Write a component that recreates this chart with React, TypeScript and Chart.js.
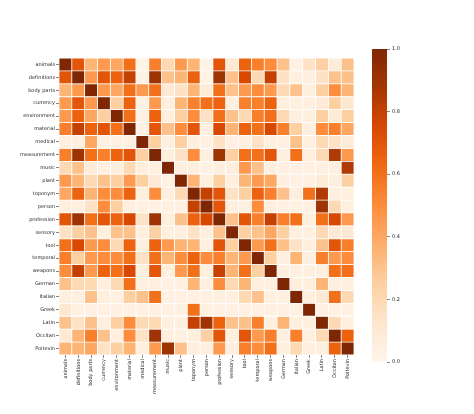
import React, { useEffect, useRef } from "react";
import { Chart, registerables } from "chart.js";
Chart.register(...registerables);

const categories = [
  "animals", "definitions", "body parts", "currency", "environment", "material",
  "medical", "measurement", "music", "plant", "toponym", "person", "profession",
  "sensory", "tool", "temporal", "weapons", "German", "Italian", "Greek", "Latin",
  "Occitan", "Poitevin",
];

const rowAnimals = [1.0, 0.7, 0.35, 0.45, 0.4, 0.6, 0.02, 0.55, 0.2, 0.45, 0.35, 0.02, 0.7, 0.1, 0.65, 0.55, 0.5, 0.3, 0.03, 0.15, 0.25, 0.08, 0.3];
const rowDefinitions = [0.7, 1.0, 0.45, 0.7, 0.65, 0.8, 0.03, 0.9, 0.3, 0.35, 0.65, 0.03, 0.9, 0.3, 0.75, 0.2, 0.8, 0.15, 0.05, 0.05, 0.15, 0.3, 0.3];
const rowBodyParts = [0.35, 0.45, 1.0, 0.45, 0.4, 0.6, 0.45, 0.6, 0.1, 0.15, 0.35, 0.08, 0.6, 0.3, 0.45, 0.5, 0.45, 0.2, 0.3, 0.05, 0.25, 0.5, 0.35];
const rowCurrency = [0.45, 0.7, 0.45, 1.0, 0.25, 0.65, 0.03, 0.45, 0.05, 0.35, 0.55, 0.6, 0.65, 0.05, 0.55, 0.55, 0.65, 0.05, 0.05, 0.05, 0.08, 0.25, 0.12];
const rowEnvironment = [0.45, 0.65, 0.4, 0.25, 1.0, 0.6, 0.03, 0.65, 0.05, 0.25, 0.5, 0.15, 0.6, 0.3, 0.2, 0.55, 0.6, 0.2, 0.05, 0.05, 0.25, 0.08, 0.25];
const rowMaterial = [0.55, 0.8, 0.65, 0.7, 0.6, 1.0, 0.03, 0.7, 0.3, 0.5, 0.7, 0.05, 0.75, 0.35, 0.65, 0.6, 0.75, 0.55, 0.25, 0.05, 0.5, 0.55, 0.4];
const rowMedical = [0.05, 0.05, 0.4, 0.04, 0.04, 0.04, 1.0, 0.25, 0.05, 0.25, 0.05, 0.04, 0.15, 0.04, 0.05, 0.15, 0.05, 0.04, 0.3, 0.04, 0.2, 0.15, 0.08];
const rowMeasurement = [0.55, 0.9, 0.6, 0.55, 0.65, 0.7, 0.25, 1.0, 0.05, 0.15, 0.5, 0.05, 0.9, 0.25, 0.6, 0.6, 0.7, 0.05, 0.6, 0.05, 0.2, 0.85, 0.45];
const rowMusic = [0.2, 0.3, 0.08, 0.05, 0.05, 0.2, 0.05, 0.05, 1.0, 0.05, 0.05, 0.03, 0.05, 0.05, 0.45, 0.3, 0.05, 0.04, 0.04, 0.04, 0.04, 0.05, 0.85];
const rowPlant = [0.45, 0.35, 0.2, 0.3, 0.25, 0.45, 0.25, 0.1, 0.03, 1.0, 0.35, 0.05, 0.25, 0.05, 0.35, 0.45, 0.4, 0.05, 0.04, 0.04, 0.08, 0.05, 0.25];
const rowToponym = [0.4, 0.65, 0.35, 0.5, 0.5, 0.65, 0.05, 0.5, 0.05, 0.2, 1.0, 0.8, 0.7, 0.15, 0.25, 0.65, 0.55, 0.3, 0.05, 0.6, 0.85, 0.05, 0.05];
const rowPerson = [0.05, 0.05, 0.15, 0.5, 0.25, 0.05, 0.04, 0.04, 0.04, 0.04, 0.8, 1.0, 0.7, 0.05, 0.05, 0.5, 0.05, 0.04, 0.04, 0.04, 0.9, 0.2, 0.05];
const rowProfession = [0.7, 0.9, 0.6, 0.7, 0.65, 0.75, 0.15, 0.9, 0.05, 0.3, 0.65, 0.75, 1.0, 0.3, 0.7, 0.55, 0.8, 0.55, 0.6, 0.05, 0.6, 0.75, 0.45];
const rowSensory = [0.15, 0.25, 0.3, 0.05, 0.3, 0.3, 0.05, 0.25, 0.05, 0.05, 0.15, 0.05, 0.3, 1.0, 0.25, 0.3, 0.4, 0.25, 0.05, 0.04, 0.2, 0.1, 0.1];
const rowTool = [0.6, 0.75, 0.45, 0.5, 0.2, 0.65, 0.05, 0.65, 0.45, 0.35, 0.35, 0.05, 0.7, 0.25, 1.0, 0.45, 0.6, 0.3, 0.15, 0.05, 0.3, 0.7, 0.55];
const rowTemporal = [0.55, 0.25, 0.45, 0.5, 0.5, 0.6, 0.15, 0.6, 0.35, 0.5, 0.65, 0.5, 0.55, 0.35, 0.45, 1.0, 0.25, 0.05, 0.35, 0.05, 0.55, 0.45, 0.5];
const rowWeapons = [0.5, 0.8, 0.45, 0.65, 0.6, 0.75, 0.05, 0.7, 0.05, 0.45, 0.6, 0.05, 0.8, 0.35, 0.6, 0.25, 1.0, 0.05, 0.05, 0.05, 0.05, 0.6, 0.6];
const rowGerman = [0.3, 0.2, 0.2, 0.05, 0.2, 0.6, 0.05, 0.05, 0.04, 0.04, 0.35, 0.04, 0.5, 0.2, 0.35, 0.05, 0.05, 1.0, 0.05, 0.05, 0.35, 0.05, 0.05];
const rowItalian = [0.05, 0.05, 0.3, 0.05, 0.04, 0.25, 0.3, 0.6, 0.04, 0.04, 0.04, 0.04, 0.05, 0.05, 0.2, 0.3, 0.05, 0.05, 1.0, 0.05, 0.1, 0.6, 0.2];
const rowGreek = [0.12, 0.04, 0.04, 0.04, 0.04, 0.04, 0.04, 0.04, 0.04, 0.04, 0.6, 0.04, 0.04, 0.04, 0.04, 0.04, 0.04, 0.04, 0.04, 1.0, 0.04, 0.04, 0.04];
const rowLatin = [0.3, 0.15, 0.3, 0.05, 0.25, 0.5, 0.2, 0.2, 0.05, 0.05, 0.8, 0.9, 0.65, 0.3, 0.3, 0.55, 0.05, 0.35, 0.05, 0.05, 1.0, 0.2, 0.05];
const rowOccitan = [0.1, 0.35, 0.55, 0.3, 0.05, 0.5, 0.15, 0.9, 0.05, 0.04, 0.05, 0.25, 0.7, 0.05, 0.7, 0.45, 0.55, 0.05, 0.55, 0.05, 0.2, 1.0, 0.65];
const rowPoitevin = [0.35, 0.35, 0.4, 0.15, 0.25, 0.35, 0.05, 0.45, 0.9, 0.3, 0.05, 0.04, 0.45, 0.05, 0.55, 0.5, 0.6, 0.05, 0.2, 0.05, 0.05, 0.65, 1.0];

const matrix = [
  rowAnimals, rowDefinitions, rowBodyParts, rowCurrency, rowEnvironment, rowMaterial,
  rowMedical, rowMeasurement, rowMusic, rowPlant, rowToponym, rowPerson, rowProfession,
  rowSensory, rowTool, rowTemporal, rowWeapons, rowGerman, rowItalian, rowGreek, rowLatin,
  rowOccitan, rowPoitevin,
];

const colorbarTicks = [0, 0.2, 0.4, 0.6, 0.8, 1.0];

const orangeStops = ["#fff5eb", "#fee6ce", "#fdd0a2", "#fdae6b", "#fd8d3c", "#f16913", "#d94801", "#a63603", "#7f2704"];

function hexToRgb(h: string) {
  return [parseInt(h.slice(1, 3), 16), parseInt(h.slice(3, 5), 16), parseInt(h.slice(5, 7), 16)];
}

function orange(v: number) {
  const t = Math.max(0, Math.min(1, v)) * (orangeStops.length - 1);
  const i = Math.min(orangeStops.length - 2, Math.floor(t));
  const f = t - i;
  const a = hexToRgb(orangeStops[i]);
  const b = hexToRgb(orangeStops[i + 1]);
  const c = a.map((x, k) => Math.round(x + (b[k] - x) * f));
  return `rgb(${c[0]},${c[1]},${c[2]})`;
}

const textColor = "#262626";
const tickColor = "#333333";

export default function App() {
  const heatRef = useRef<HTMLCanvasElement>(null);
  const barRef = useRef<HTMLCanvasElement>(null);

  useEffect(() => {
    const font = { family: "DejaVu Sans", size: 5 };
    const heat = new Chart(heatRef.current!, {
      type: "bar",
      data: {
        labels: categories,
        datasets: matrix.map((row, i) => ({
          label: categories[i],
          data: row.map(() => 1),
          backgroundColor: row.map(orange),
          borderColor: "#ffffff",
          borderWidth: 0.4,
          borderSkipped: false,
          inflateAmount: 0,
          barPercentage: 1,
          categoryPercentage: 1,
          yAxisID: "y",
        })),
      },
      options: {
        animation: false,
        responsive: false,
        maintainAspectRatio: false,
        layout: { padding: { top: 58, right: 6, left: 0, bottom: 0 } },
        plugins: { legend: { display: false }, tooltip: { enabled: false } },
        scales: {
          x: {
            stacked: true,
            offset: true,
            grid: { offset: false, drawOnChartArea: false, tickLength: 3, tickColor, tickWidth: 0.6 },
            border: { display: false },
            ticks: { font, color: textColor, maxRotation: 90, minRotation: 90, autoSkip: false, padding: 1 },
            afterFit: (s: any) => { s.height = 59; },
          },
          y: { stacked: true, min: 0, max: 23, reverse: true, display: false },
          yl: {
            type: "category",
            labels: categories,
            offset: true,
            position: "left",
            grid: { offset: false, drawOnChartArea: false, tickLength: 3, tickColor, tickWidth: 0.6 },
            border: { display: false },
            ticks: { font, color: textColor, autoSkip: false, padding: 1 },
            afterFit: (s: any) => { s.width = 59; },
          },
        },
      } as any,
    });

    const cb = new Chart(barRef.current!, {
      type: "bar",
      data: {
        labels: [""],
        datasets: [{
          data: [[0, 1]] as any,
          backgroundColor: (ctx: any) => {
            const ca = ctx.chart.chartArea;
            if (!ca) return orangeStops[4];
            const g = ctx.chart.ctx.createLinearGradient(0, ca.bottom, 0, ca.top);
            orangeStops.forEach((c, i) => g.addColorStop(i / (orangeStops.length - 1), c));
            return g;
          },
          borderWidth: 0,
          barPercentage: 1,
          categoryPercentage: 1,
        }],
      },
      options: {
        animation: false,
        responsive: false,
        maintainAspectRatio: false,
        layout: { padding: { left: 12, top: 49, bottom: 52, right: 0 } },
        plugins: { legend: { display: false }, tooltip: { enabled: false } },
        scales: {
          x: { display: false },
          y: {
            position: "right",
            min: 0,
            max: 1,
            afterBuildTicks: (s: any) => { s.ticks = colorbarTicks.map((v) => ({ value: v })); },
            ticks: { font, color: textColor, padding: 2, callback: (v: any) => Number(v).toFixed(1) },
            grid: { drawOnChartArea: false, tickLength: 3, tickColor, tickWidth: 0.6 },
            border: { display: false },
            afterFit: (s: any) => { s.width = 87; },
          },
        },
      } as any,
    });

    return () => { heat.destroy(); cb.destroy(); };
  }, []);

  return (
    <div style={{ position: "absolute", left: 0, top: 0, width: 474, height: 414, background: "#fff" }}>
      <canvas ref={heatRef} width={360} height={414} style={{ position: "absolute", left: 0, top: 0 }} />
      <canvas ref={barRef} width={114} height={414} style={{ position: "absolute", left: 360, top: 0 }} />
    </div>
  );
}
